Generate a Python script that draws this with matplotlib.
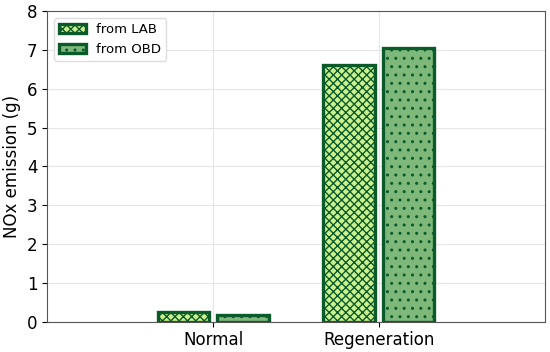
import matplotlib
matplotlib.use("Agg")
import matplotlib.pyplot as plt
import numpy as np

plt.rcParams['hatch.color'] = '#0b5a2a'
plt.rcParams['hatch.linewidth'] = 1.0

categories = ["Normal", "Regeneration"]
lab_values = [0.25, 6.62]
obd_values = [0.17, 7.06]
series_labels = ["from LAB", "from OBD"]

fig = plt.figure(figsize=(5.5, 3.52), dpi=100)
ax = fig.add_axes([0.086, 0.086, 0.904, 0.882])

x = np.arange(len(categories))
w = 0.31
edge = '#0b5a2a'
ax.bar(x - 0.18, lab_values, w, color='#ccf28f', edgecolor=edge, linewidth=2.4,
       hatch='xxxx', label=series_labels[0], zorder=3)
ax.bar(x + 0.18, obd_values, w, color='#7eb97b', edgecolor=edge, linewidth=2.4,
       hatch='..', label=series_labels[1], zorder=3)

ax.set_xlim(-1, 2)
ax.set_ylim(0, 8)
ax.set_xticks(x)
ax.set_xticklabels(categories, fontsize=12)
ax.tick_params(axis='y', labelsize=12)
ax.set_ylabel("NOx emission (g)", fontsize=12)
ax.grid(True, color='#e6e6e6', linewidth=0.8, zorder=0)
ax.set_axisbelow(True)
for s in ax.spines.values():
    s.set_color('#555555')
ax.legend(loc='upper left', fontsize=9.5, framealpha=1, edgecolor='#dddddd')

fig.savefig("out.png", dpi=100)
